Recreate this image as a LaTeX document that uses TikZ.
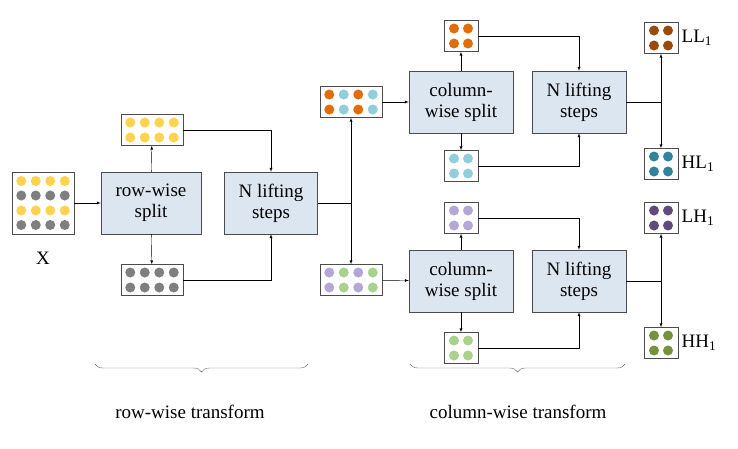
\documentclass[tikz,border=0pt]{standalone}
\usepackage{fontspec}
\setmainfont{Liberation Serif}
\usetikzlibrary{decorations.pathreplacing}

\definecolor{boxfill}{HTML}{DCE6F1}
\definecolor{cyel}{HTML}{FFD34E}
\definecolor{cgray}{HTML}{7F7F7F}
\definecolor{corg}{HTML}{E36C0A}
\definecolor{cblu}{HTML}{92CDDC}
\definecolor{cpur}{HTML}{B4A7D6}
\definecolor{cgrn}{HTML}{A9D18E}
\definecolor{cbrn}{HTML}{9C4A0C}
\definecolor{cteal}{HTML}{31849B}
\definecolor{cdpur}{HTML}{604A7B}
\definecolor{colv}{HTML}{76923C}

\tikzset{
  stage/.style={draw=black!70,fill=boxfill,minimum width=96pt,minimum height=62pt,align=center,inner sep=1pt},
  wide/.style={draw=black!70,fill=white,minimum width=62pt,minimum height=31pt},
  small/.style={draw=black!70,fill=white,minimum width=34pt,minimum height=31pt},
  big/.style={draw=black!70,fill=white,minimum width=62pt,minimum height=62pt},
  flow/.style={-latex,black},
}
% dots of one row: node, y offset, colours of the columns
\newcommand\dotrow[3]{%
  \foreach \c [count=\i] in {#3}{%
    \pgfmathsetmacro\dx{(\i-1)*14.5-21.75}
    \fill[\c] ([shift={(\dx,#2)}]#1.center) circle (5pt);}}
\newcommand\dotpair[3]{%
  \fill[#3] ([shift={(-7,#2)}]#1.center) circle (5pt);
  \fill[#3] ([shift={(7,#2)}]#1.center) circle (5pt);}

\begin{document}
\begin{tikzpicture}[x=1pt,y=-1pt,font=\fontsize{19}{21}\selectfont]
  \useasboundingbox (0,0) rectangle (738,448);

  % row-wise transform
  \node[big] (X) at (43,203) {};
  \node (Xlabel) at (43,258) {X};
  \node[stage,minimum width=100pt] (RowSplit) at (151,203) {row-wise\\split};
  \node[wide] (RowTop) at (152,130) {};
  \node[wide] (RowBot) at (152,280) {};
  \node[stage,minimum width=93pt] (RowLift) at (271,203) {N lifting\\steps};
  \dotrow{X}{-22}{cyel,cyel,cyel,cyel}
  \dotrow{X}{-7.5}{cgray,cgray,cgray,cgray}
  \dotrow{X}{7.5}{cyel,cyel,cyel,cyel}
  \dotrow{X}{22}{cgray,cgray,cgray,cgray}
  \dotrow{RowTop}{-7.5}{cyel,cyel,cyel,cyel}
  \dotrow{RowTop}{7.5}{cyel,cyel,cyel,cyel}
  \dotrow{RowBot}{-7.5}{cgray,cgray,cgray,cgray}
  \dotrow{RowBot}{7.5}{cgray,cgray,cgray,cgray}

  \draw[flow] (X) -- (RowSplit);
  \draw[flow] (RowSplit) -- (RowTop);
  \draw[flow] (RowSplit) -- (RowBot);
  \draw[flow] (RowTop.east) -| (RowLift.north);
  \draw[flow] (RowBot.east) -| (RowLift.south);

  % column-wise transform, upper half
  \node[wide] (L) at (351,102) {};
  \node[wide] (H) at (351,280) {};
  \coordinate (RowJoin) at (351,203);
  \dotrow{L}{-7.5}{corg,cblu,corg,cblu}
  \dotrow{L}{7.5}{corg,cblu,corg,cblu}
  \dotrow{H}{-7.5}{cpur,cgrn,cpur,cgrn}
  \dotrow{H}{7.5}{cpur,cgrn,cpur,cgrn}
  \draw (RowLift.east) -- (RowJoin);
  \draw[flow] (RowJoin) -- (L.south);
  \draw[flow] (RowJoin) -- (H.north);

  \node[stage,minimum width=104pt] (ColSplitL) at (461,102) {column-\\wise split};
  \node[small] (LTop) at (461,36) {};
  \node[small] (LBot) at (461,166) {};
  \node[stage,minimum width=94pt] (ColLiftL) at (579,102) {N lifting\\steps};
  \node[small] (LL) at (661,38) {};
  \node[small] (HL) at (661,164) {};
  \node[anchor=west] (LLlabel) at (LL.east) {LL\textsubscript{1}};
  \node[anchor=west] (HLlabel) at (HL.east) {HL\textsubscript{1}};
  \coordinate (LJoin) at (661,102);
  \dotpair{LTop}{-7.5}{corg} \dotpair{LTop}{7.5}{corg}
  \dotpair{LBot}{-7.5}{cblu} \dotpair{LBot}{7.5}{cblu}
  \dotpair{LL}{-7.5}{cbrn} \dotpair{LL}{7.5}{cbrn}
  \dotpair{HL}{-7.5}{cteal} \dotpair{HL}{7.5}{cteal}
  \draw[flow] (L) -- (ColSplitL);
  \draw[flow] (ColSplitL) -- (LTop);
  \draw[flow] (ColSplitL) -- (LBot);
  \draw[flow] (LTop.east) -| (ColLiftL.north);
  \draw[flow] (LBot.east) -| (ColLiftL.south);
  \draw (ColLiftL.east) -- (LJoin);
  \draw[flow] (LJoin) -- (LL.south);
  \draw[flow] (LJoin) -- (HL.north);

  % column-wise transform, lower half
  \node[stage,minimum width=104pt] (ColSplitH) at (461,281) {column-\\wise split};
  \node[small] (HTop) at (461,218) {};
  \node[small] (HBot) at (461,348) {};
  \node[stage,minimum width=94pt] (ColLiftH) at (579,281) {N lifting\\steps};
  \node[small] (LH) at (661,218) {};
  \node[small] (HH) at (661,343) {};
  \node[anchor=west] (LHlabel) at (LH.east) {LH\textsubscript{1}};
  \node[anchor=west] (HHlabel) at (HH.east) {HH\textsubscript{1}};
  \coordinate (HJoin) at (661,281);
  \dotpair{HTop}{-7.5}{cpur} \dotpair{HTop}{7.5}{cpur}
  \dotpair{HBot}{-7.5}{cgrn} \dotpair{HBot}{7.5}{cgrn}
  \dotpair{LH}{-7.5}{cdpur} \dotpair{LH}{7.5}{cdpur}
  \dotpair{HH}{-7.5}{colv} \dotpair{HH}{7.5}{colv}
  \draw[flow] (H) -- (ColSplitH);
  \draw[flow] (ColSplitH) -- (HTop);
  \draw[flow] (ColSplitH) -- (HBot);
  \draw[flow] (HTop.east) -| (ColLiftH.north);
  \draw[flow] (HBot.east) -| (ColLiftH.south);
  \draw (ColLiftH.east) -- (HJoin);
  \draw[flow] (HJoin) -- (LH.south);
  \draw[flow] (HJoin) -- (HH.north);

  % braces
  \coordinate (RowBraceA) at (95,364);
  \coordinate (RowBraceB) at (308,364);
  \coordinate (ColBraceA) at (410,364);
  \coordinate (ColBraceB) at (625,364);
  \draw[black!60,decorate,decoration={brace,mirror,amplitude=8pt}] (RowBraceA) -- (RowBraceB);
  \draw[black!60,decorate,decoration={brace,mirror,amplitude=8pt}] (ColBraceA) -- (ColBraceB);
  \node (RowName) at (190,412) {row-wise transform};
  \node (ColName) at (518,412) {column-wise transform};
\end{tikzpicture}
\end{document}
